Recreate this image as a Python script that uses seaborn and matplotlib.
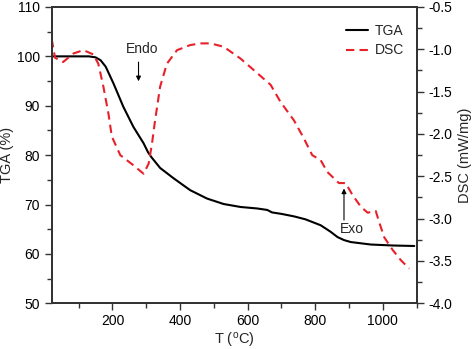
import matplotlib
matplotlib.use("Agg")
import matplotlib.pyplot as plt
import seaborn as sns
import pandas as pd
from matplotlib.ticker import MultipleLocator
from matplotlib.lines import Line2D

# TGA data (left axis)
tga_T = [20, 130, 150, 165, 180, 203, 232, 262, 292, 305, 315, 341, 381, 430, 480,
         529, 579, 628, 658, 672, 700, 737, 771, 816, 845, 866, 885, 905, 964, 1030, 1093]
tga_val = [100, 100, 99.8, 99.2, 97.9, 94.5, 89.8, 85.7, 82.4, 80.6, 79.6, 77.4, 75.3,
           72.9, 71.2, 70.1, 69.5, 69.2, 68.9, 68.4, 68.1, 67.6, 67.0, 65.8, 64.5, 63.4,
           62.8, 62.4, 61.9, 61.7, 61.6]

# DSC data (right axis)
dsc_T = [20, 30, 54, 84, 114, 143, 158, 173, 188, 198, 223, 262, 292, 307, 317, 326,
         341, 361, 391, 430, 460, 490, 529, 579, 628, 668, 697, 737, 766, 791, 816,
         836, 870, 890, 910, 935, 955, 979, 989, 1004, 1029, 1053, 1078]
dsc_val = [-0.88, -1.10, -1.15, -1.05, -1.01, -1.06, -1.17, -1.44, -1.76, -2.03, -2.25,
           -2.37, -2.47, -2.35, -2.11, -1.84, -1.44, -1.17, -1.01, -0.95, -0.93, -0.93,
           -0.97, -1.11, -1.28, -1.42, -1.62, -1.84, -2.05, -2.25, -2.31, -2.45, -2.58,
           -2.58, -2.72, -2.86, -2.93, -2.91, -3.04, -3.22, -3.37, -3.49, -3.59]

sns.set_style("ticks")
plt.rcParams['font.family'] = ['Liberation Sans', 'DejaVu Sans']
plt.rcParams['mathtext.fontset'] = 'custom'
plt.rcParams['mathtext.rm'] = 'Liberation Sans'
plt.rcParams['mathtext.it'] = 'Liberation Sans'

fig = plt.figure(figsize=(4.74, 3.49), dpi=100)
ax = fig.add_axes([0.109, 0.131, 0.770, 0.849])
ax2 = ax.twinx()

tga_df = pd.DataFrame({"T": tga_T, "TGA": tga_val})
dsc_df = pd.DataFrame({"T": dsc_T, "DSC": dsc_val})

sns.lineplot(data=tga_df, x="T", y="TGA", ax=ax, color="black", lw=1.5, sort=False)
sns.lineplot(data=dsc_df, x="T", y="DSC", ax=ax2, color="#e8202a", lw=1.5,
             sort=False, dashes=False)
ax2.lines[0].set_dashes((4, 2.5))
for ln in ax.lines + ax2.lines:
    ln.set_solid_joinstyle('round')
    ln.set_dash_joinstyle('round')

ax.set_xlim(20, 1100)
ax.set_ylim(50, 110)
ax2.set_ylim(-4.0, -0.5)

ax.xaxis.set_major_locator(MultipleLocator(200))
ax.xaxis.set_minor_locator(MultipleLocator(100))
ax.yaxis.set_major_locator(MultipleLocator(10))
ax.yaxis.set_minor_locator(MultipleLocator(5))
ax2.yaxis.set_major_locator(MultipleLocator(0.5))
ax2.yaxis.set_minor_locator(MultipleLocator(0.25))
ax2.yaxis.set_major_formatter(matplotlib.ticker.FormatStrFormatter('%.1f'))

for a in (ax, ax2):
    for s in a.spines.values():
        s.set_visible(True)
        s.set_color('#333333')
        s.set_linewidth(1.3)
    a.tick_params(which='major', direction='out', length=5, width=1, labelsize=10,
                  colors='#333333', labelcolor='black')
    a.tick_params(which='minor', direction='out', length=3.5, width=1, colors='#333333')
ax.tick_params(axis='x', pad=3)

ax.set_xlabel(r'T ($^\mathrm{o}$C)', fontsize=10.5, labelpad=2)
ax.set_ylabel('TGA (%)', fontsize=10.5, labelpad=2)
ax2.set_ylabel('DSC (mW/mg)', fontsize=10.5, labelpad=4)

# annotations
ax.annotate('', xy=(277, 94.4), xytext=(277, 99.4),
            arrowprops=dict(arrowstyle='-|>', color='black', lw=0.8, mutation_scale=7))
ax.text(287, 101.5, 'Endo', fontsize=10, ha='center', va='center')
ax.annotate('', xy=(885, 73.8), xytext=(885, 66.3),
            arrowprops=dict(arrowstyle='-|>', color='black', lw=0.8, mutation_scale=7))
ax.text(909, 65.0, 'Exo', fontsize=10, ha='center', va='center')

handles = [Line2D([], [], color='black', lw=1.5),
           Line2D([], [], color='#e8202a', lw=1.5, dashes=(4, 2.5))]
ax2.legend(handles, ['TGA', 'DSC'], loc='upper right', bbox_to_anchor=(1.0, 0.985),
           frameon=False, fontsize=10, handlelength=1.6, handletextpad=0.5,
           labelspacing=0.4)

fig.savefig('out.png', dpi=100)
